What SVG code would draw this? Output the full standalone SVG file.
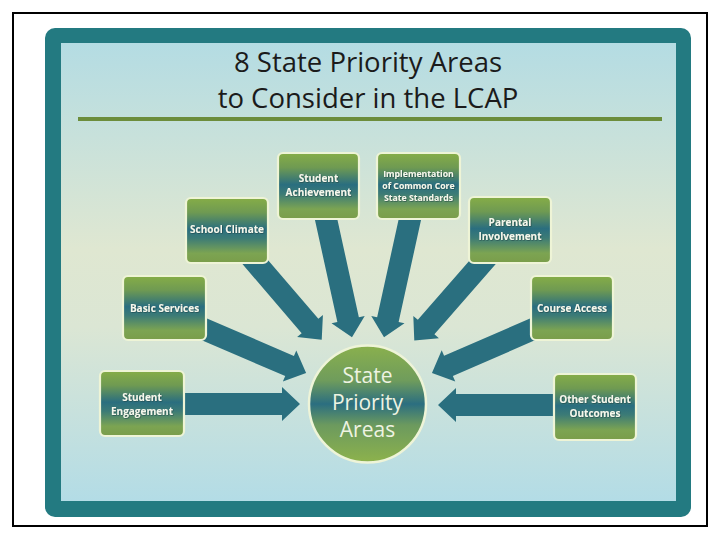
<svg xmlns="http://www.w3.org/2000/svg" width="720" height="540" viewBox="0 0 720 540">
  <defs>
    <linearGradient id="bg" x1="0" y1="0" x2="0" y2="1">
      <stop offset="0" stop-color="#b4dce3"/>
      <stop offset="0.45" stop-color="#dfe7d1"/>
      <stop offset="0.62" stop-color="#dbe6d4"/>
      <stop offset="1" stop-color="#b3dce6"/>
    </linearGradient>
    <linearGradient id="boxg" x1="0" y1="0" x2="0" y2="1">
      <stop offset="0" stop-color="#86ad47"/>
      <stop offset="0.22" stop-color="#6f9a52"/>
      <stop offset="0.48" stop-color="#2a6e7f"/>
      <stop offset="0.62" stop-color="#3c7b76"/>
      <stop offset="0.85" stop-color="#7ca452"/>
      <stop offset="1" stop-color="#7a9d4a"/>
    </linearGradient>
    <linearGradient id="circg" x1="0" y1="0" x2="0" y2="1">
      <stop offset="0" stop-color="#8ab04d"/>
      <stop offset="0.3" stop-color="#6f9c5c"/>
      <stop offset="0.5" stop-color="#2b6e80"/>
      <stop offset="0.68" stop-color="#6c9a5e"/>
      <stop offset="1" stop-color="#8db24c"/>
    </linearGradient>
    <filter id="ts" x="-10%" y="-30%" width="120%" height="160%">
      <feDropShadow dx="0.6" dy="0.6" stdDeviation="0.4" flood-color="#1c3b40" flood-opacity="0.8"/>
    </filter>
    <style>
      .box { fill: url(#boxg); stroke: #eef4d6; stroke-width: 2.2; }
      .lbl { font-family: "Open Sans", "Liberation Sans", sans-serif; font-weight: bold; font-size: 10px; fill: #f5f8ec; text-anchor: middle; filter: url(#ts); }
      .small { font-size: 8.7px; }
      .arrow { fill: #2a6f7f; }
      .title { font-family: "Open Sans", "Liberation Sans", sans-serif; font-size: 27.5px; fill: #1b1b1b; text-anchor: middle; }
      .ctext { font-family: "Open Sans", "Liberation Sans", sans-serif; font-size: 21px; fill: #eef3e2; text-anchor: middle; }
    </style>
  </defs>

  <rect x="0" y="0" width="720" height="540" fill="#ffffff"/>
  <rect x="13" y="13" width="694" height="513" fill="none" stroke="#000000" stroke-width="2"/>
  <rect x="45" y="28" width="646" height="489" rx="10" fill="#237a81"/>
  <rect x="61" y="43" width="615" height="458" fill="url(#bg)"/>

  <g id="title">
    <text class="title" x="368" y="72">8 State Priority Areas</text>
    <text class="title" x="368" y="108">to Consider in the LCAP</text>
    <line x1="78" y1="119" x2="662" y2="119" stroke="#6c8d3c" stroke-width="4"/>
  </g>

  <g id="connectors">
    <polygon class="arrow" transform="translate(185,404)" points="-10,-11 97,-11 97,-17 115,0 97,17 97,11 -10,11"/>
    <polygon class="arrow" transform="translate(554,405) rotate(180)" points="-10,-11 98,-11 98,-17 116,0 98,17 98,11 -10,11"/>
    <polygon class="arrow" transform="translate(206,330) rotate(23.3)" points="-10,-11 91,-11 91,-17 109,0 91,17 91,11 -10,11"/>
    <polygon class="arrow" transform="translate(531,330) rotate(156.5)" points="-10,-11 90,-11 90,-17 108,0 90,17 90,11 -10,11"/>
    <polygon class="arrow" transform="translate(256,263) rotate(49.4)" points="-10,-11 83,-11 83,-17 101,0 83,17 83,11 -10,11"/>
    <polygon class="arrow" transform="translate(482,263) rotate(131.1)" points="-10,-11 85,-11 85,-17 103,0 85,17 85,11 -10,11"/>
    <polygon class="arrow" transform="translate(326,219) rotate(77.6)" points="-10,-11 103,-11 103,-17 121,0 103,17 103,11 -10,11"/>
    <polygon class="arrow" transform="translate(410,219) rotate(102.4)" points="-10,-11 103,-11 103,-17 121,0 103,17 103,11 -10,11"/>
  </g>

  <g id="student-achievement">
    <rect class="box" x="278" y="153" width="81" height="66" rx="5"/>
    <text class="lbl" x="318.5" y="182">Student</text>
    <text class="lbl" x="318.5" y="196">Achievement</text>
  </g>
  <g id="implementation">
    <rect class="box" x="377" y="153" width="83" height="66" rx="5"/>
    <text class="lbl small" x="418.5" y="177">Implementation</text>
    <text class="lbl small" x="418.5" y="189">of Common Core</text>
    <text class="lbl small" x="418.5" y="201">State Standards</text>
  </g>
  <g id="school-climate">
    <rect class="box" x="186" y="198" width="82" height="65" rx="5"/>
    <text class="lbl" x="227" y="233">School Climate</text>
  </g>
  <g id="parental-involvement">
    <rect class="box" x="469" y="197" width="82" height="66" rx="5"/>
    <text class="lbl" x="510" y="226">Parental</text>
    <text class="lbl" x="510" y="240">Involvement</text>
  </g>
  <g id="basic-services">
    <rect class="box" x="123" y="276" width="83" height="64" rx="5"/>
    <text class="lbl" x="164.5" y="312">Basic Services</text>
  </g>
  <g id="course-access">
    <rect class="box" x="531" y="276" width="82" height="64" rx="5"/>
    <text class="lbl" x="572" y="312">Course Access</text>
  </g>
  <g id="student-engagement">
    <rect class="box" x="100" y="371" width="84" height="65" rx="5"/>
    <text class="lbl" x="142" y="401">Student</text>
    <text class="lbl" x="142" y="415">Engagement</text>
  </g>
  <g id="other-student-outcomes">
    <rect class="box" x="554" y="374" width="82" height="66" rx="5"/>
    <text class="lbl" x="595" y="403">Other Student</text>
    <text class="lbl" x="595" y="417">Outcomes</text>
  </g>

  <g id="state-priority-areas">
    <circle cx="367.5" cy="404" r="58.5" fill="url(#circg)" stroke="#eef4d8" stroke-width="2.5"/>
    <text class="ctext" x="367.5" y="383">State</text>
    <text class="ctext" x="367.5" y="410">Priority</text>
    <text class="ctext" x="367.5" y="437">Areas</text>
  </g>
</svg>
